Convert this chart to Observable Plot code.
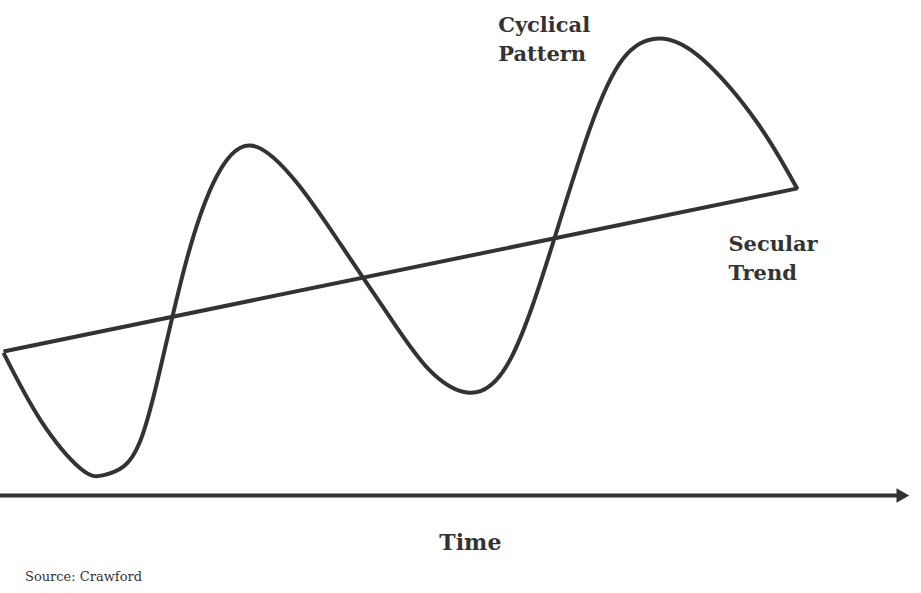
<!DOCTYPE html>
<html>
<head>
<meta charset="utf-8">
<script src="https://cdn.jsdelivr.net/npm/d3@7"></script>
<script src="https://cdn.jsdelivr.net/npm/@observablehq/plot@0.6"></script>
<style>
  html, body { margin: 0; padding: 0; background: #fff; }
  #chart svg { display: block; }
  #source { font-family: "DejaVu Serif", serif; font-size: 13px; color: #333; padding-left: 25px; margin-top: 7px; line-height: 20px; }
</style>
</head>
<body>
<div id="chart"></div>
<div id="source">Source: Crawford</div>
<script>
// Time (0-100) and value (0-100)
const cycleTime = [0, 4.7, 9.7, 12.5, 15.1, 17.2, 19.4, 22.7, 26.4, 31.1, 37.0, 42.4, 48.7, 53.5, 58.6, 63.9, 69.3, 73.9, 78.0, 82.5, 88.0, 95.0, 100];
const cycleValue = [31.2, 16.4, 5.9, 4.4, 6.3, 11.8, 25.2, 49.2, 68.3, 76.6, 68.3, 55.1, 38.9, 27.7, 22.5, 30.0, 55.8, 80.5, 95.5, 100, 95.5, 81.4, 67.0];

const trendTime = [0, 100];
const trendValue = [31.5, 67.2];

const axisTime = [-0.5, 112.6];
const axisValue = [0, 0];
const arrowTime = [113.0];

const labelText = ["Cyclical\nPattern", "Secular\nTrend"];
const labelTime = [62.3, 91.3];
const labelValue = [100.2, 52.3];

const axisTitle = "Time";
const axisTitleTime = 58.8;
const axisTitleValue = -10.4;

const ink = "#333333";

const cycle = cycleTime.map((t, i) => ({t, v: cycleValue[i]}));
const trend = trendTime.map((t, i) => ({t, v: trendValue[i]}));
const axisLine = axisTime.map((t, i) => ({t, v: axisValue[i]}));
const labels = labelText.map((s, i) => ({s, t: labelTime[i], v: labelValue[i]}));

const chart = Plot.plot({
  width: 921,
  height: 560,
  marginLeft: 0, marginRight: 0, marginTop: 0, marginBottom: 0,
  x: {domain: [0, 100], range: [3, 797], axis: null},
  y: {domain: [0, 100], range: [495, 38], axis: null},
  style: {background: "#fff"},
  marks: [
    Plot.line(axisLine, {x: "t", y: "v", stroke: ink, strokeWidth: 4, strokeLinecap: "butt"}),
    Plot.dot(arrowTime, {x: d => d, y: 0, symbol: "triangle2", r: 7, rotate: 90, fill: ink, stroke: null}),
    Plot.line(trend, {x: "t", y: "v", stroke: ink, strokeWidth: 4, strokeLinecap: "butt"}),
    Plot.line(cycle, {x: "t", y: "v", stroke: ink, strokeWidth: 4, strokeLinecap: "butt", curve: "natural"}),
    Plot.text(labels, {x: "t", y: "v", text: "s", textAnchor: "start", lineAnchor: "middle", lineHeight: 1.36, fontSize: 21, fontWeight: "bold", fontFamily: "DejaVu Serif", fill: ink}),
    Plot.text([axisTitle], {x: axisTitleTime, y: axisTitleValue, text: d => d, textAnchor: "middle", fontSize: 22, fontWeight: "bold", fontFamily: "DejaVu Serif", fill: ink})
  ]
});
document.getElementById("chart").appendChild(chart);
</script>
</body>
</html>
